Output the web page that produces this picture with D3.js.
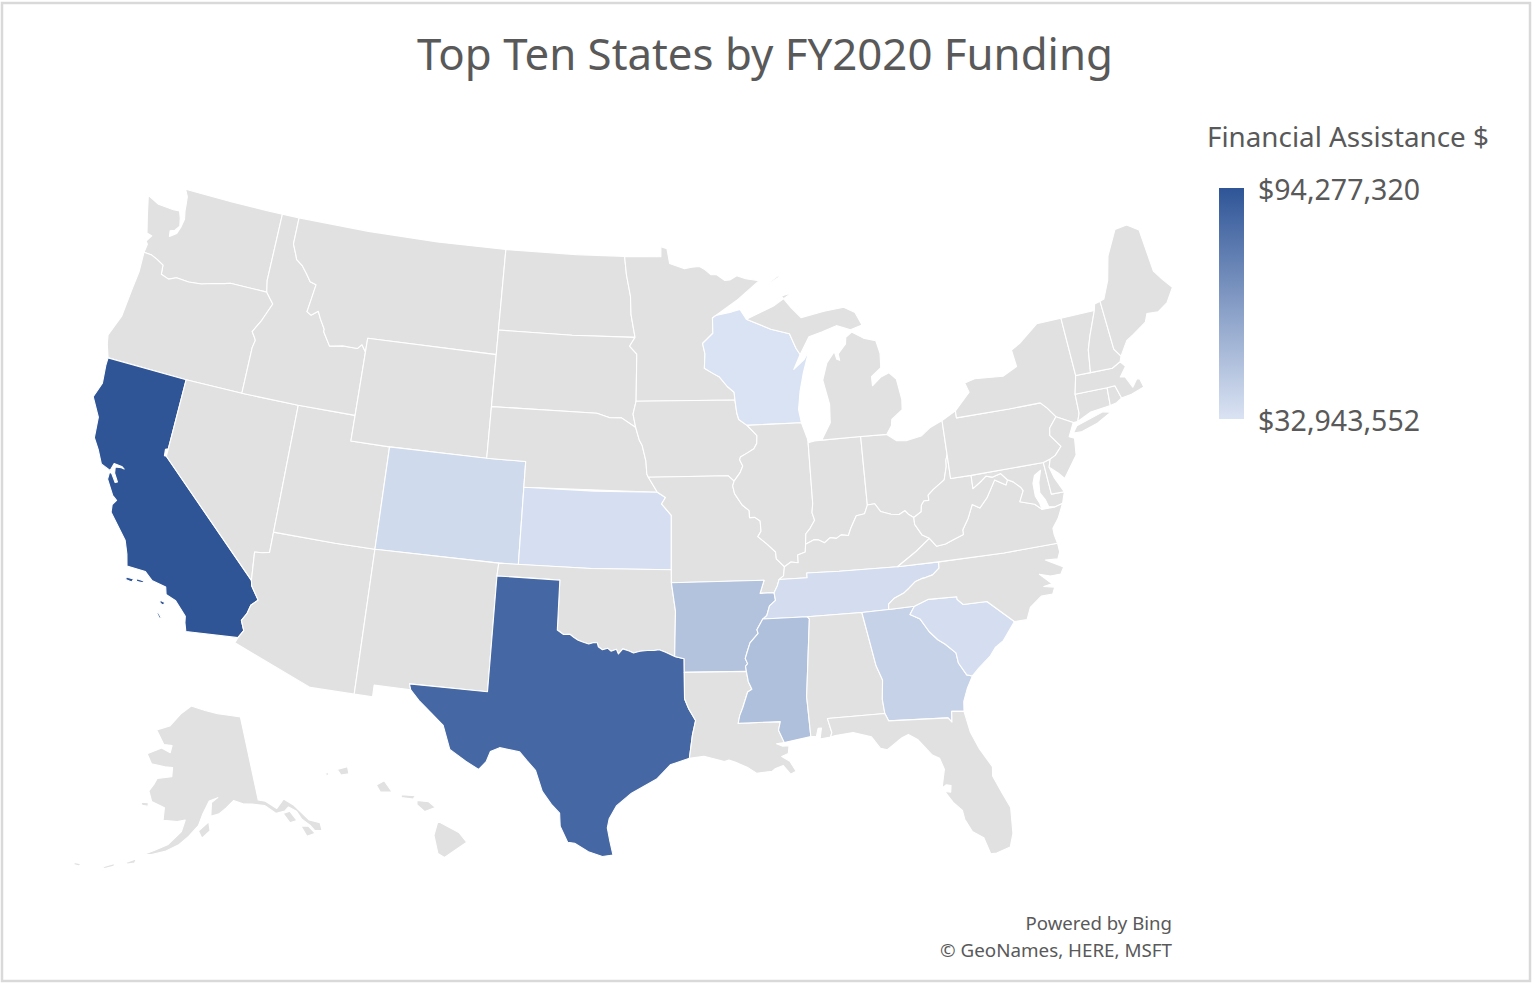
<!DOCTYPE html>
<html>
<head>
<meta charset="utf-8">
<script src="https://cdn.jsdelivr.net/npm/d3@7"></script>
<style>
  body { margin: 0; background: #fff; }
  text { font-family: "Noto Sans", sans-serif; fill: #595959; }
</style>
</head>
<body>
<svg id="chart" width="1536" height="986"></svg>
<script>
// funded states, values
const fundedStates = ["California", "Texas", "Mississippi", "Arkansas", "Georgia", "Colorado", "Tennessee", "South Carolina", "Kansas", "Wisconsin"];
const fundedValues = [94277320, 86400000, 48200000, 46800000, 40100000, 37000000, 35500000, 35000000, 34500000, 32943552];
const legendLabels = ["$94,277,320", "$32,943,552"];

// shared borders, [lon, lat]
const snake = [[-117.04,46.42],[-116.92,45.99],[-116.46,45.6],[-116.85,44.9],[-117.22,44.4],[-117.03,44.2],[-116.95,44.1],[-117.03,43.8]];
const columbia = [[-118.98,46],[-119.3,45.93],[-119.9,45.83],[-120.5,45.7],[-121.2,45.65],[-121.9,45.68],[-122.3,45.55],[-122.75,45.65],[-122.8,46.0],[-123.2,46.15],[-123.55,46.25],[-124.0,46.27]];
const colorado = [[-114.63,35.0],[-114.57,34.8],[-114.14,34.3],[-114.43,34.05],[-114.53,33.7],[-114.72,33.4],[-114.52,33.03],[-114.72,32.72]];
const bitterroot = [[-116.05,49],[-116.05,48],[-115.75,47.55],[-115.7,47.45],[-115.3,47.25],[-115,47.0],[-114.7,46.72],[-114.35,46.65],[-114.45,46.1],[-114.55,45.58],[-114.3,45.48],[-113.95,45.68],[-113.75,45.4],[-113.45,45.05],[-113.45,44.95],[-113.0,44.45],[-112.3,44.55],[-111.9,44.55],[-111.5,44.55],[-111.3,44.72],[-111.05,44.47]];
const redRiver = [[-100,34.56],[-99.7,34.4],[-99.4,34.42],[-99.2,34.3],[-99,34.2],[-98.75,34.13],[-98.5,34.07],[-98.3,34.13],[-98.1,34.13],[-98.05,33.98],[-97.85,33.87],[-97.6,33.93],[-97.45,33.82],[-97.2,33.9],[-97.1,33.72],[-96.9,33.92],[-96.6,33.84],[-96.4,33.77],[-96.1,33.84],[-95.75,33.87],[-95.45,33.87],[-95.2,33.9],[-94.9,33.8],[-94.48,33.64]];
const sabine = [[-94.04,33.02],[-94.04,32.0],[-93.85,31.6],[-93.55,31.15],[-93.7,30.6],[-93.75,30.3],[-93.85,29.7]];
const missouriUpper = [[-96.45,42.49],[-96.25,42.0],[-96.1,41.8],[-95.9,41.2],[-95.85,40.7],[-95.77,40.58]];
const missouriLower = [[-95.31,40],[-94.9,39.8],[-95.1,39.55],[-94.61,39.11]];
const stCroix = [[-92.1,46.75],[-92.29,46.66],[-92.29,46.08],[-92.87,45.7],[-92.75,45.3],[-92.8,44.75]];
const missMnWi = [[-92.8,44.75],[-92.35,44.55],[-92.0,44.4],[-91.6,44.03],[-91.25,43.8],[-91.22,43.5]];
const missIaWi = [[-91.22,43.5],[-91.15,43.0],[-91.06,42.75],[-90.64,42.51]];
const missIaIl = [[-90.64,42.51],[-90.42,42.33],[-90.15,42.1],[-90.18,41.8],[-90.34,41.6],[-90.66,41.46],[-91.05,41.3],[-91.1,41.2],[-90.95,40.95],[-91.1,40.7],[-91.42,40.38]];
const missMoIl = [[-91.42,40.38],[-91.5,40.2],[-91.42,39.9],[-91.06,39.45],[-90.72,39.22],[-90.72,38.95],[-90.45,38.95],[-90.2,38.8],[-90.18,38.4],[-90.35,38.2],[-89.9,37.88],[-89.52,37.57],[-89.5,37.3],[-89.13,36.98]];
const missMoKy = [[-89.13,36.98],[-89.2,36.63],[-89.42,36.5]];
const missMoTn = [[-89.42,36.5],[-89.53,36.25],[-89.7,36.0]];
const missArTn = [[-89.7,36.0],[-89.65,35.7],[-89.95,35.5],[-90.1,35.13],[-90.3,35.0]];
const missArMs = [[-90.3,35.0],[-90.6,34.6],[-90.55,34.45],[-90.95,34.1],[-91.1,33.75],[-91.2,33.5],[-91.1,33.3],[-91.2,33.2],[-91.17,33.0]];
const missLaMs = [[-91.17,33.0],[-91.1,32.6],[-90.95,32.3],[-91.15,32.2],[-91.4,31.6],[-91.55,31.3],[-91.63,31.0],[-89.73,31.0],[-89.83,30.67],[-89.6,30.18]];
const ohioIlKy = [[-89.13,36.98],[-88.8,37.15],[-88.45,37.1],[-88.45,37.4],[-88.07,37.5],[-88.03,37.8]];
const ohioInKy = [[-88.03,37.8],[-87.6,37.95],[-87.4,37.93],[-87.1,37.8],[-86.8,37.98],[-86.5,37.93],[-86.25,38.05],[-85.9,38.0],[-85.75,38.27],[-85.42,38.73],[-85.0,38.78],[-84.82,39.1]];
const ohioOhKy = [[-84.82,39.1],[-84.45,39.12],[-84.2,38.8],[-83.7,38.65],[-83.3,38.6],[-83.0,38.72],[-82.85,38.57],[-82.6,38.42]];
const ohioOhWv = [[-82.6,38.42],[-82.2,38.6],[-82.15,38.85],[-82.0,39.0],[-81.75,39.0],[-81.75,39.2],[-81.45,39.4],[-80.85,39.7],[-80.65,40.2],[-80.62,40.45],[-80.52,40.64]];
const wabash = [[-88.03,37.8],[-87.98,38.2],[-87.75,38.4],[-87.5,38.7],[-87.6,39.0],[-87.53,39.35],[-87.53,41.7]];
const kyWv = [[-82.6,38.42],[-82.6,38.15],[-82.3,37.7],[-81.97,37.54]];
const kyVa = [[-81.97,37.54],[-82.7,37.1],[-83.68,36.6]];
const wvVa = [[-81.97,37.54],[-81.68,37.2],[-81.23,37.24],[-80.85,37.35],[-80.3,37.5],[-80.3,37.68],[-79.95,38.1],[-79.65,38.6],[-79.3,38.42],[-78.87,38.77],[-78.35,39.4],[-77.83,39.13],[-77.72,39.32]];
const potomacUp = [[-77.72,39.32],[-78.0,39.6],[-78.45,39.52],[-78.75,39.6],[-79.0,39.45],[-79.49,39.2],[-79.48,39.72]];
const potomacDown = [[-77.72,39.32],[-77.45,39.2],[-77.12,38.93],[-77.04,38.8],[-77.3,38.4],[-76.95,38.3],[-76.6,38.2],[-76.3,37.95]];
const tnNorth = [[-89.42,36.5],[-88.07,36.5],[-88.07,36.68],[-86.5,36.65],[-83.68,36.6]];
const tnNc = [[-81.68,36.59],[-81.7,36.35],[-82.05,36.12],[-82.4,36.05],[-82.6,36.03],[-82.9,35.95],[-83.25,35.72],[-83.5,35.57],[-84.0,35.4],[-84.3,35.2],[-84.32,34.99]];
const scGa = [[-83.1,35.0],[-83.35,34.7],[-82.9,34.48],[-82.55,33.95],[-82.2,33.6],[-81.9,33.4],[-81.45,33.0],[-81.4,32.6],[-81.1,32.1],[-80.85,32.03]];
const scNc = [[-83.1,35.0],[-82.4,35.2],[-81.05,35.15],[-81.05,35.05],[-80.8,34.82],[-79.67,34.8],[-78.55,33.86]];
const alGa = [[-85.6,34.98],[-85.18,32.87],[-84.95,32.3],[-85.05,31.55],[-85.0,31.0]];
const gaFl = [[-85.0,31.0],[-84.86,30.7],[-82.2,30.55],[-82.05,30.37],[-82.0,30.78],[-81.45,30.72]];
const alFl = [[-85.0,31.0],[-87.6,31.0],[-87.45,30.45],[-87.52,30.28]];
const msAl = [[-88.2,34.99],[-88.1,34.9],[-88.47,31.9],[-88.4,30.35]];
const paNyDelaware = [[-75.35,42.0],[-75.05,41.75],[-74.7,41.36]];
const paNj = [[-74.7,41.36],[-75.13,40.98],[-75.2,40.7],[-74.75,40.2],[-75.13,39.9],[-75.42,39.8]];
const vtNh = [[-72.46,42.73],[-72.3,43.6],[-72.05,44.1],[-71.5,45.01]];
const nhMe = [[-70.7,43.07],[-70.98,43.4],[-71.08,45.3]];
const miOh = [[-84.8,41.76],[-83.45,41.73]];
const rio = [[-97.15,25.96],[-97.6,25.9],[-98.2,26.06],[-98.8,26.37],[-99.1,26.4],[-99.45,27.0],[-99.5,27.5],[-99.85,27.8],[-100.3,28.3],[-100.65,29.1],[-101.05,29.45],[-101.4,29.77],[-102.3,29.88],[-102.7,29.7],[-102.85,29.3],[-103.15,28.98],[-103.75,29.25],[-104.5,29.65],[-104.9,30.55],[-105.5,30.98],[-106.1,31.4],[-106.53,31.78]];
const rev = a => a.slice().reverse();

// state outlines, each a list of rings
const lower48 = {
  Washington: [[[-122.76,49],[-120,49],[-118,49],[-117.03,49],...snake.slice(0,2),[-118.98,46],...columbia.slice(1),[-123.95,46.6],[-124.07,46.7],[-123.85,46.95],[-124.15,47.0],[-124.4,47.6],[-124.7,48.38],[-124.0,48.17],[-123.1,48.13],[-122.75,48.15],[-122.6,47.9],[-122.5,47.6],[-122.7,47.4],[-122.95,47.33],[-122.9,47.12],[-122.55,47.3],[-122.42,47.6],[-122.35,47.9],[-122.45,48.2],[-122.5,48.5],[-122.55,48.75]]],
  Oregon: [[...rev(columbia),[-116.92,45.99],...snake.slice(2),[-117.03,42],[-120,42],[-124.2,42],[-124.45,42.5],[-124.55,42.84],[-124.15,43.7],[-124.05,44.7],[-123.95,45.5]]],
  California: [[[-124.2,42],[-120,42],[-120,39.25],[-120.13,39.2],[-120.1,38.95],[-120,38.95],...colorado,[-117.12,32.53],[-117.25,32.85],[-117.3,33.1],[-117.9,33.6],[-118.4,33.75],[-118.5,34.03],[-119.2,34.15],[-119.6,34.42],[-120.5,34.45],[-120.65,34.9],[-120.9,35.4],[-121.9,36.3],[-121.95,36.6],[-121.8,36.8],[-122.05,36.95],[-122.5,37.5],[-122.5,37.78],[-122.38,37.75],[-122.1,37.45],[-122.0,37.5],[-122.25,37.8],[-122.3,38.03],[-122.0,38.07],[-121.85,38.05],[-122.0,38.12],[-122.4,38.15],[-122.5,37.85],[-123.0,38.0],[-123.35,38.5],[-123.7,38.9],[-123.8,39.7],[-124.35,40.4],[-124.1,41.0],[-124.2,41.7]],
    [[-119.9,34.07],[-119.55,34.05],[-119.6,33.97],[-119.9,33.97]],[[-120.4,34.03],[-120.05,34.03],[-120.1,33.9],[-120.4,33.93]],[[-118.6,33.48],[-118.35,33.43],[-118.45,33.32],[-118.6,33.4]],[[-118.6,33.03],[-118.35,32.82],[-118.45,32.8],[-118.6,32.95]]],
  Nevada: [[[-120,42],[-117.03,42],[-114.04,42],[-114.04,37],[-114.04,36.2],[-114.4,36.13],[-114.75,36.1],[-114.63,35.0],[-120,38.95],[-120,39.25]]],
  Arizona: [[[-114.04,37],[-111,37],[-109.05,37],[-109.05,31.33],[-111.07,31.33],[-114.81,32.5],...rev(colorado),[-114.75,36.1],[-114.4,36.13],[-114.04,36.2]]],
  Utah: [[[-114.04,42],[-111.05,42],[-111.05,41],[-109.05,41],[-109.05,37],[-111,37],[-114.04,37]]],
  Idaho: [[[-117.03,49],...bitterroot,[-111.05,42],[-114.04,42],[-117.03,42],...rev(snake)]],
  Montana: [[[-116.05,49],[-112,49],[-108,49],[-104.05,49],[-104.05,45.94],[-104.05,45],[-111.05,45],...rev(bitterroot)]],
  Wyoming: [[[-111.05,45],[-104.05,45],[-104.05,43],[-104.05,41],[-109.05,41],[-111.05,41],[-111.05,42],[-111.05,44.47]]],
  Colorado: [[[-109.05,41],[-104.05,41],[-102.05,41],[-102.05,40],[-102.05,37],[-103,37],[-109.05,37]]],
  "New Mexico": [[[-109.05,37],[-103,37],[-103.04,36.5],[-103.04,32],[-106.62,32],[-106.53,31.78],[-108.21,31.78],[-108.21,31.33],[-109.05,31.33]]],
  "North Dakota": [[[-104.05,49],[-100,49],[-97.23,49],[-97.1,48.3],[-96.85,47.5],[-96.8,46.8],[-96.56,45.94],[-100,45.94],[-104.05,45.94]]],
  "South Dakota": [[[-104.05,45.94],[-100,45.94],[-96.56,45.94],[-96.85,45.6],[-96.45,45.3],[-96.45,43.5],[-96.6,43.0],[-96.45,42.49],[-97.2,42.85],[-97.85,42.85],[-98.5,43],[-104.05,43],[-104.05,45]]],
  Nebraska: [[[-104.05,43],[-98.5,43],[-97.85,42.85],[-97.2,42.85],...missouriUpper,[-95.31,40],[-102.05,40],[-102.05,41],[-104.05,41]]],
  Kansas: [[[-102.05,40],[-98.5,40],...missouriLower,[-94.62,37],[-98.5,37],[-102.05,37]]],
  Oklahoma: [[[-103,37],[-98.5,37],[-94.62,37],[-94.62,36.5],[-94.43,35.4],[-94.48,33.64],...rev(redRiver),[-100,36.5],[-103.04,36.5]]],
  Texas: [[[-103.04,36.5],[-100,36.5],...redRiver,[-94.04,33.55],...sabine,[-94.7,29.45],[-95.3,28.9],[-96.4,28.35],[-97.05,27.85],[-97.35,27.35],[-97.42,27.0],[-97.3,26.5],...rio,[-106.62,32],[-103.04,32]]],
  Minnesota: [[[-97.23,49],[-95.15,49],[-95.15,49.38],[-94.8,49.3],[-94.65,48.75],[-94.25,48.65],[-93.8,48.55],[-93.4,48.6],[-92.95,48.62],[-92.65,48.5],[-92.3,48.3],[-92.0,48.3],[-91.55,48.07],[-91.25,48.08],[-90.85,48.23],[-90.35,48.1],[-89.6,48.0],[-90.9,47.3],...stCroix,...missMnWi,[-96.45,43.5],[-96.45,45.3],[-96.85,45.6],[-96.56,45.94],[-96.8,46.8],[-96.85,47.5],[-97.1,48.3]]],
  Iowa: [[[-96.45,43.5],[-91.22,43.5],...missIaWi,...missIaIl,[-91.72,40.6],[-95.77,40.58],...rev(missouriUpper),[-96.6,43.0]]],
  Missouri: [[[-95.77,40.58],[-91.72,40.6],...missMoIl,...missMoKy,...missMoTn,[-90.37,36],[-90.15,36.5],[-94.62,36.5],[-94.62,37],...rev(missouriLower)]],
  Arkansas: [[[-94.62,36.5],[-90.15,36.5],[-90.37,36],...missArTn,...missArMs,[-94.04,33.02],[-94.04,33.55],[-94.48,33.64],[-94.43,35.4]]],
  Louisiana: [[[-94.04,33.02],...missLaMs,[-89.95,30.15],[-89.7,30.05],[-89.4,30.05],[-89.45,29.75],[-89.75,29.65],[-89.4,29.45],[-89.15,29.05],[-89.4,28.95],[-89.7,29.3],[-90.05,29.2],[-90.2,29.1],[-90.9,29.05],[-91.3,29.3],[-91.8,29.5],[-92.1,29.6],[-92.3,29.55],[-93.2,29.77],...rev(sabine)]],
  Wisconsin: [[[-92.1,46.75],[-91.2,46.87],[-90.75,46.95],[-90.42,46.57],[-89.1,46.14],[-88.1,45.92],[-87.8,45.35],[-87.6,45.1],[-88.0,44.55],[-87.4,44.9],[-87.1,45.25],[-87.5,44.4],[-87.75,43.7],[-87.9,43.0],[-87.8,42.49],...rev(missIaWi),...rev(missMnWi),...rev(stCroix)]],
  Illinois: [[[-90.64,42.51],[-87.8,42.49],[-87.55,41.85],[-87.53,41.7],...rev(wabash),...rev(ohioIlKy),...rev(missMoIl),...rev(missIaIl)]],
  Indiana: [[[-87.53,41.7],[-87.2,41.75],[-86.82,41.76],[-84.8,41.76],[-84.82,39.1],...rev(ohioInKy),...wabash]],
  Ohio: [[...miOh,[-83.0,41.45],[-82.5,41.4],[-81.7,41.5],[-81.2,41.77],[-80.52,41.98],[-80.52,40.64],...rev(ohioOhWv),...rev(ohioOhKy)]],
  Michigan: [[[-86.82,41.76],...miOh,[-83.15,42.05],[-83.1,42.28],[-82.5,42.6],[-82.45,43.0],[-82.6,43.8],[-82.95,44.07],[-83.4,43.95],[-83.9,43.65],[-83.9,44.0],[-83.35,44.3],[-83.3,44.85],[-83.45,45.35],[-84.1,45.5],[-84.7,45.78],[-85.05,45.6],[-85.1,45.35],[-85.55,45.0],[-85.5,44.75],[-85.65,44.8],[-85.75,45.1],[-86.2,44.7],[-86.5,44.05],[-86.25,43.1],[-86.3,42.4]],
    [[-90.42,46.57],[-89.1,46.14],[-88.1,45.92],[-87.8,45.35],[-87.6,45.1],[-87.05,45.75],[-86.3,45.9],[-85.5,46.08],[-84.75,45.87],[-84.1,46.0],[-84.4,46.5],[-85.0,46.75],[-86.1,46.67],[-87.4,46.5],[-87.9,46.9],[-88.4,47.37],[-87.8,47.47],[-88.9,47.0]],
    [[-89.2,47.85],[-88.5,48.15],[-88.45,48.1],[-89.1,47.85]]],
  Kentucky: [[...tnNorth,...rev(kyVa),...rev(kyWv),...rev(ohioOhKy),...rev(ohioInKy),...rev(ohioIlKy),...missMoKy]],
  Tennessee: [[...tnNorth,...tnNc,[-85.6,34.98],[-88.2,34.99],[-90.3,35.0],...rev(missArTn),...rev(missMoTn)]],
  Mississippi: [[[-90.3,35.0],[-88.2,34.99],[-88.1,34.9],[-88.47,31.9],[-88.4,30.35],[-89.6,30.18],...rev(missLaMs),...rev(missArMs)]],
  Alabama: [[...alGa,...alFl,[-88.0,30.23],[-87.9,30.65],[-88.05,30.65],[-88.15,30.35],...rev(msAl)]],
  Georgia: [[[-85.6,34.98],[-84.32,34.99],...scGa,[-81.15,31.6],[-81.4,31.1],...rev(gaFl),...rev(alGa)]],
  Florida: [[...rev(alFl),...gaFl,[-81.3,29.9],[-81.0,29.2],[-80.55,28.45],[-80.6,28.1],[-80.3,27.4],[-80.03,26.8],[-80.1,25.8],[-80.3,25.3],[-80.9,25.15],[-81.15,25.15],[-81.35,25.8],[-81.8,26.1],[-82.05,26.6],[-82.1,26.95],[-82.45,27.3],[-82.75,27.75],[-82.5,27.7],[-82.45,27.95],[-82.65,28.0],[-82.85,27.9],[-82.65,28.6],[-82.8,29.05],[-83.1,29.2],[-83.65,29.85],[-84.05,30.1],[-84.35,30.0],[-85.05,29.6],[-85.35,29.68],[-85.7,30.15],[-86.5,30.38],[-87.3,30.32]]],
  "South Carolina": [[...scNc,[-79.2,33.2],[-79.6,33.0],[-79.9,32.7],[-80.5,32.3],...rev(scGa)]],
  "North Carolina": [[[-84.32,34.99],...scNc,[-77.95,33.85],[-77.7,34.3],[-77.1,34.65],[-76.55,34.65],[-76.4,34.9],[-76.9,35.0],[-76.5,35.05],[-77.0,35.5],[-76.5,35.35],[-76.0,35.35],[-75.8,35.6],[-76.6,36.0],[-76.0,35.95],[-75.85,36.2],[-75.87,36.55],[-78.5,36.55],...tnNc]],
  Virginia: [[[-75.87,36.55],[-78.5,36.55],[-81.68,36.59],[-83.68,36.6],...rev(kyVa),...wvVa,...potomacDown,[-75.65,37.95],[-75.25,38.03],[-75.6,37.5],[-75.95,37.15],[-75.95,36.9]]],
  "West Virginia": [[[-80.52,40.64],[-80.52,39.72],[-79.48,39.72],...rev(potomacUp),...rev(wvVa),...rev(kyWv),...ohioOhWv]],
  Maryland: [[[-79.48,39.72],[-75.79,39.72],[-75.7,38.46],[-75.05,38.45],[-75.25,38.03],[-75.65,37.95],[-75.95,38.0],[-76.05,38.3],[-76.25,38.6],[-76.2,39.0],[-76.0,39.45],[-76.35,39.3],[-76.5,39.0],[-76.5,38.5],[-76.35,38.2],...rev(potomacDown),...potomacUp]],
  Delaware: [[[-75.79,39.72],[-75.42,39.8],[-75.55,39.5],[-75.4,39.05],[-75.05,38.45],[-75.7,38.46]]],
  Pennsylvania: [[[-80.52,41.98],[-79.76,42.27],[-79.76,42],[-77,42],...paNyDelaware,...paNj,[-75.79,39.72],[-79.48,39.72],[-80.52,39.72],[-80.52,40.64]]],
  "New York": [[[-79.76,42.27],[-79.76,42],[-77,42],...paNyDelaware,[-73.9,41.0],[-73.66,41.0],[-73.5,41.3],[-73.49,42.05],[-73.25,42.75],[-73.35,45.01],[-74.7,45.0],[-75.8,44.4],[-76.3,44.2],[-76.2,43.55],[-77.0,43.28],[-78.5,43.37],[-79.05,43.27],[-78.9,42.9]],
    [[-74.0,40.6],[-73.75,40.85],[-72.3,41.15],[-71.9,41.07],[-72.7,40.77],[-73.6,40.58]]],
  "New Jersey": [[[-74.7,41.36],[-73.9,41.0],[-74.25,40.5],[-74.0,40.4],[-74.1,39.75],[-74.9,38.95],[-75.15,39.2],[-75.55,39.5],[-75.42,39.8],[-75.13,39.9],[-74.75,40.2],[-75.2,40.7],[-75.13,40.98]]],
  Connecticut: [[[-73.49,42.05],[-71.8,42.02],[-71.85,41.32],[-72.9,41.25],[-73.66,41.0],[-73.5,41.3]]],
  "Rhode Island": [[[-71.8,42.02],[-71.38,42.02],[-71.2,41.5],[-71.5,41.37],[-71.85,41.32]]],
  Massachusetts: [[[-73.49,42.05],[-71.8,42.02],[-71.38,42.02],[-71.2,41.5],[-70.65,41.55],[-69.95,41.7],[-70.05,42.05],[-70.2,42.07],[-70.5,41.8],[-70.75,42.25],[-71.0,42.3],[-70.6,42.65],[-70.82,42.87],[-71.3,42.7],[-72.46,42.73],[-73.25,42.75]]],
  Vermont: [[[-73.25,42.75],...vtNh,[-73.35,45.01]]],
  "New Hampshire": [[[-72.46,42.73],[-71.3,42.7],[-70.82,42.87],...nhMe,[-71.4,45.25],...rev(vtNh).slice(0,3)]],
  Maine: [[...nhMe,[-70.85,45.35],[-70.4,46.0],[-70.05,46.9],[-69.3,47.8],[-68.6,47.85],[-68.0,47.55],[-67.85,45.9],[-67.5,45.5],[-67.1,45.1],[-67.6,44.6],[-68.2,44.35],[-68.8,44.4],[-69.0,44.1],[-69.8,43.75],[-70.2,43.6]]]
};
const alaska = {
  Alaska: [[[-141,69.65],[-141,60.3],[-139.5,60.0],[-137.5,58.9],[-135.5,59.7],[-133.8,58.7],[-131.8,56.6],[-130,55.9],[-130.2,55.0],[-131.5,55.3],[-132.0,56.0],[-133.2,57.0],[-133.7,58.0],[-135.0,58.7],[-136.0,58.4],[-137.9,58.4],[-139.9,59.55],[-142.5,60.0],[-144.5,60.2],[-146.5,60.7],[-148.3,60.0],[-150,59.4],[-151.8,59.2],[-151.5,60.7],[-150,61.2],[-152,60.9],[-153.5,59.5],[-154.5,58.2],[-156.5,57],[-158.5,56],[-161,55.2],[-163.5,54.7],[-164.9,54.6],[-163,55.2],[-160.5,56],[-158,57.5],[-157.3,58.8],[-159,58.6],[-162,58.6],[-162,60],[-165,60.5],[-166,61.6],[-165,62.5],[-164.5,63.1],[-161,63.5],[-161,64.5],[-163,64.5],[-166.5,64.6],[-168.1,65.6],[-164.5,66.5],[-162,66.1],[-161.7,66.9],[-164,66.9],[-166.7,68.35],[-163,69],[-160,70.4],[-156.6,71.35],[-152,70.85],[-148,70.4],[-144,70]],
    [[-136.5,58.2],[-135,58.2],[-134.2,57.0],[-135.7,57.0]],[[-133.8,56.3],[-132.4,56.0],[-131.6,55.0],[-133.3,55.0]],
    [[-154.5,57.6],[-152.3,58.6],[-152.1,57.6],[-153.8,56.8]],[[-167.4,60.2],[-165.7,60.3],[-165.6,59.9],[-166.9,59.9]],[[-171.7,63.6],[-169.6,63.3],[-168.9,63.2],[-170.5,63.35]],[[-168.2,53.3],[-166.2,54],[-166.4,53.5],[-167.6,53.25]],[[-172,52.3],[-170,53],[-170,52.7],[-171.5,52.2]],[[-177,51.9],[-175.8,52],[-176,51.7],[-177,51.65]]]
};
const hawaii = {
  Hawaii: [[[-155.9,20.25],[-155.1,19.85],[-154.8,19.5],[-155.65,18.95],[-155.9,19.1],[-156.05,19.75]],
    [[-156.7,21.0],[-156.25,20.95],[-156.0,20.75],[-156.4,20.6],[-156.7,20.85]],[[-158.25,21.55],[-157.95,21.7],[-157.65,21.3],[-158.1,21.3]],[[-159.75,22.1],[-159.35,22.2],[-159.3,21.95],[-159.6,21.9]],[[-157.3,21.2],[-156.75,21.17],[-156.85,21.05],[-157.3,21.1]],[[-160.25,21.95],[-160.05,22.0],[-160.1,21.88]]]
};

const colorRange = ["#dae3f3", "#2f5597"];
const color = d3.scaleLinear().domain([d3.min(fundedValues), d3.max(fundedValues)]).range(colorRange);
const fundedByState = new Map(fundedStates.map((s, i) => [s, fundedValues[i]]));

const projections = [
  [lower48, d3.geoConicConformal().parallels([28, 42.6]).rotate([95, 0]).center([0, 38]).scale(1490).translate([663.5, 544])],
  [alaska, d3.geoConicConformal().parallels([55, 65]).rotate([155, 0]).center([0, 66]).scale(520).translate([196, 755])],
  [hawaii, d3.geoMercator().center([-157.5, 20.8]).scale(1500).translate([396, 806])]
];

// d3 wants clockwise rings, so flip any ring that came out covering the globe
function fixRing(r) {
  const ring = r.concat([r[0]]);
  return d3.geoArea({type: "Polygon", coordinates: [ring]}) > 2 * Math.PI ? ring.reverse() : ring;
}

const svg = d3.select("#chart");

svg.append("rect")
  .attr("x", 2).attr("y", 3)
  .attr("width", 1528).attr("height", 978)
  .attr("fill", "#fff")
  .attr("stroke", "#d9d9d9")
  .attr("stroke-width", 2.5);

projections.forEach(function(p) {
  const path = d3.geoPath(p[1]);
  svg.append("g").selectAll("path")
    .data(Object.keys(p[0]))
    .enter().append("path")
      .attr("d", function(name) {
        return path({type: "MultiPolygon", coordinates: p[0][name].map(function(r) { return [fixRing(r)]; })});
      })
      .attr("fill", function(name) { return fundedByState.has(name) ? color(fundedByState.get(name)) : "#e1e1e1"; })
      .attr("stroke", "#fff")
      .attr("stroke-width", 1.1)
      .attr("stroke-linejoin", "round");
});

svg.append("text")
  .attr("x", 765).attr("y", 70)
  .attr("text-anchor", "middle")
  .style("font-size", "43.8px")
  .text("Top Ten States by FY2020 Funding");

// legend
const defs = svg.append("defs");
const grad = defs.append("linearGradient").attr("id", "ramp").attr("x1", 0).attr("y1", 0).attr("x2", 0).attr("y2", 1);
grad.append("stop").attr("offset", "0%").attr("stop-color", colorRange[1]);
grad.append("stop").attr("offset", "100%").attr("stop-color", colorRange[0]);

svg.append("text")
  .attr("x", 1207).attr("y", 147)
  .style("font-size", "27.8px")
  .text("Financial Assistance $");

const legendY = d3.scaleLinear().domain([d3.max(fundedValues), d3.min(fundedValues)]).range([188, 419]);
svg.append("rect")
  .attr("x", 1219).attr("y", legendY.range()[0])
  .attr("width", 25).attr("height", legendY.range()[1] - legendY.range()[0])
  .attr("fill", "url(#ramp)");

svg.selectAll(".legend-label")
  .data(legendLabels)
  .enter().append("text")
    .attr("class", "legend-label")
    .attr("x", 1258)
    .attr("y", function(d, i) { return i === 0 ? 200 : 431; })
    .style("font-size", "28.5px")
    .text(function(d) { return d; });

svg.append("text")
  .attr("x", 1172).attr("y", 930)
  .attr("text-anchor", "end")
  .style("font-size", "18.6px")
  .text("Powered by Bing");
svg.append("text")
  .attr("x", 1172).attr("y", 957)
  .attr("text-anchor", "end")
  .style("font-size", "18.8px")
  .text("© GeoNames, HERE, MSFT");
</script>
</body>
</html>
